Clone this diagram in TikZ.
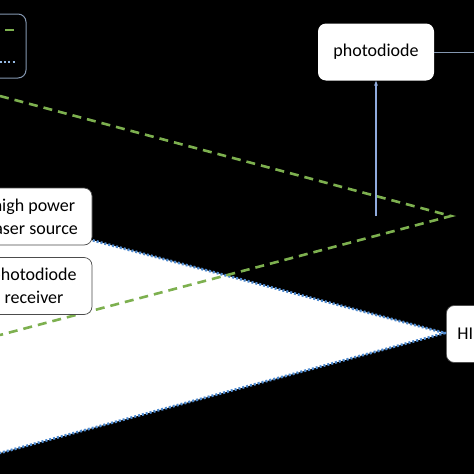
\documentclass[tikz,border=0pt]{standalone}
\usepackage{fontspec}
\setmainfont{Carlito}
\usepackage{tikz}
\usetikzlibrary{arrows.meta}
\definecolor{beam}{HTML}{7DB04F}
\definecolor{sky}{HTML}{8FAADC}
\definecolor{fibre}{HTML}{4F8BD0}
\definecolor{frame}{HTML}{8497B0}
\tikzset{
  box/.style={draw=gray!60!black, fill=white, rounded corners=8pt, line width=0.7pt,
    minimum width=116pt, minimum height=57pt, inner sep=0pt, align=center,
    font=\fontsize{18}{23}\selectfont},
  beamline/.style={draw=beam, line width=2.6pt, dash pattern=on 9pt off 6pt},
  fibreline/.style={draw=fibre, line width=2.6pt, dash pattern=on 2pt off 2pt},
  link/.style={draw=sky, line width=1.2pt},
}

\begin{document}
\begin{tikzpicture}[x=1pt, y=-1pt]
  \fill[black] (0,0) rectangle (474,474);
  \useasboundingbox (0,0) rectangle (474,474);
  \clip (0,0) rectangle (474,474);

  \coordinate (T1) at (0,216);
  \coordinate (T2) at (445,333);
  \coordinate (T3) at (0,453);
  \coordinate (B1) at (0,96);
  \coordinate (B2) at (451,216);
  \coordinate (B3) at (0,335);
  \coordinate (S) at (376,216);
  \coordinate (R) at (474,52);

  % white cone towards the far box
  \fill[white] (T1) -- (T2) -- (T3) -- cycle;
  \draw[fibreline] (T1) -- (T2) -- (T3);

  % green beam out and back
  \draw[beamline] (B1) -- (B2) -- (B3);

  % legend frame
  \node[draw=frame, fill=black, rounded corners=8pt, line width=1pt,
    minimum width=90pt, minimum height=64pt] (legend) at (-19,46) {};
  \draw[beamline] (5,30) -- (14,30);
  \draw[draw=fibre!60!white, line width=2.4pt, dash pattern=on 2pt off 2.2pt] (0,62) -- (15,62);

  \node[box] (laser) at (34,216.5) {high power\\laser source};
  \node[box] (receiver) at (34,286) {photodiode\\receiver};
  \node[box, draw=none] (photo) at (376,52) {photodiode};
  \node[box, anchor=west, text width=95pt, align=left, inner xsep=11pt] (far) at (446,334) {HI};

  \draw[link, -{Stealth[length=5pt, width=4pt]}] (S) -- (photo.south);
  \draw[draw=frame, line width=1pt] (photo.east) -- (R);
\end{tikzpicture}
\end{document}
